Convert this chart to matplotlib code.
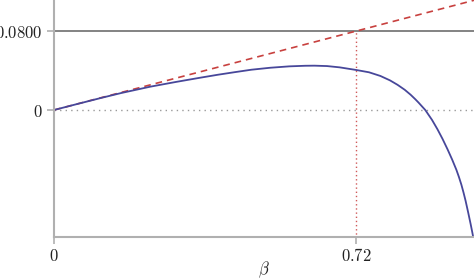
import matplotlib

matplotlib.use("Agg")
import matplotlib.pyplot as plt

plt.rcParams["mathtext.fontset"] = "cm"
plt.rcParams["font.family"] = "serif"

# blue curve
beta = [0.0, 0.05, 0.110, 0.16, 0.229, 0.29, 0.348, 0.39, 0.43, 0.47,
        0.515, 0.56, 0.598, 0.62, 0.65, 0.68, 0.72, 0.75, 0.777, 0.80,
        0.818, 0.835, 0.849, 0.86, 0.868, 0.884, 0.90, 0.913, 0.925, 0.937,
        0.948, 0.958, 0.964, 0.970, 0.975, 0.980, 0.986, 0.992, 0.996, 1.0]
value = [0.0, 0.0055, 0.0120, 0.0172, 0.0236, 0.0284, 0.0327, 0.0357,
         0.0383, 0.0408, 0.0428, 0.0442, 0.0448, 0.0449, 0.0445, 0.0432,
         0.0405, 0.0382, 0.0345, 0.0300, 0.0255, 0.0205, 0.0155, 0.0110,
         0.0075, 0.0, -0.0100, -0.0195, -0.0292, -0.0398, -0.0502, -0.0605,
         -0.0677, -0.0757, -0.0835, -0.0920, -0.1035, -0.1155, -0.1240,
         -0.1330]

# tangent (dashed) line
line_beta = [0.0, 1.0]
line_value = [0.0, 0.1111]

beta_mark = 0.72
level = 0.08

x_ticks = [0, beta_mark]
x_labels = ["$0$", "$0.72$"]
y_ticks = [0, level]
y_labels = ["$0$", "$0.0800$"]

fig = plt.figure(figsize=(4.74, 2.79), dpi=100)
ax = fig.add_axes([54 / 474, 42 / 279, 420 / 474, 237 / 279])

ax.axhline(level, color="#6e6e6e", lw=1.2)
ax.axhline(0, color="#9a9a9a", lw=1.0, ls=(0, (1, 3)))
ax.plot([beta_mark, beta_mark], [-0.2, level], color="#d05a5a", lw=1.0,
        ls=(0, (1, 2)))
ax.plot(line_beta, line_value, color="#c8413f", lw=1.2, ls=(0, (4, 3)))
ax.plot(beta, value, color="#47479a", lw=1.3, solid_joinstyle="round")

ax.set_xlim(0, 1.0)
ax.set_ylim(-0.1286, 0.1114)

for side in ["top", "right"]:
    ax.spines[side].set_visible(False)
for side in ["left", "bottom"]:
    ax.spines[side].set_color("#b0b0b0")
    ax.spines[side].set_linewidth(1.5)

ax.set_xticks(x_ticks)
ax.set_xticklabels(x_labels, fontsize=12)
ax.set_yticks(y_ticks)
ax.set_yticklabels(y_labels, fontsize=12)
ax.tick_params(colors="#b0b0b0", labelcolor="#222222", length=5, width=1.2,
               pad=3)
ax.set_xlabel(r"$\beta$", fontsize=12, labelpad=-4, color="#222222")

fig.savefig("out.png", dpi=100)
